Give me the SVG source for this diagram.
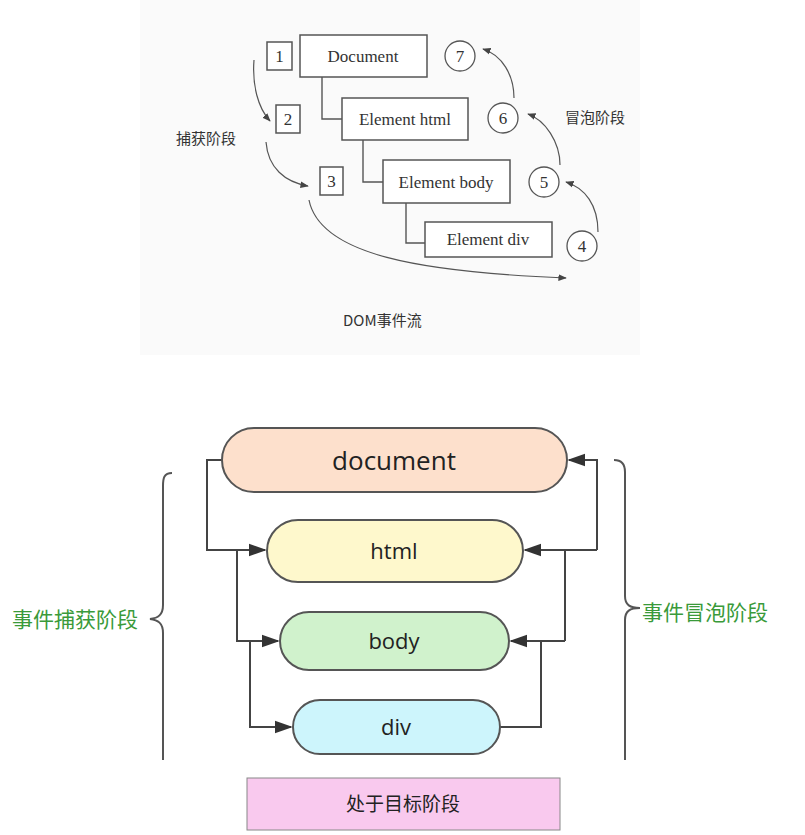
<svg xmlns="http://www.w3.org/2000/svg" width="805" height="835" viewBox="0 0 805 835">
<defs>
<marker id="a" viewBox="0 0 10 10" refX="9" refY="5" markerWidth="7" markerHeight="7" orient="auto"><path d="M0,1 L10,5 L0,9 z" fill="#444"/></marker>
<marker id="b" viewBox="0 0 10 10" refX="9" refY="5" markerWidth="9" markerHeight="9" orient="auto"><path d="M0,1.5 L10,5 L0,8.5 z" fill="#333"/></marker>
<style>
.sb{fill:#fff;stroke:#555;stroke-width:1.5}
.st{font-family:"Liberation Serif",serif;font-size:17px;fill:#333;text-anchor:middle}
.cn{fill:#fff;stroke:#555;stroke-width:1.3}
.cv{fill:none;stroke:#555;stroke-width:1.2;marker-end:url(#a)}
.tl{fill:none;stroke:#555;stroke-width:1.4}
.cj{font-family:"Noto Sans CJK SC",sans-serif;font-size:15px;fill:#333}
.pill{stroke:#555;stroke-width:2}
.pt{font-family:"Open Sans","DejaVu Sans",sans-serif;fill:#222;text-anchor:middle}
.ln{fill:none;stroke:#444;stroke-width:2}
.ar{fill:none;stroke:#444;stroke-width:2;marker-end:url(#b)}
.br{fill:none;stroke:#555;stroke-width:2}
.gl{font-family:"Noto Sans CJK SC",sans-serif;font-size:21px;fill:#3a9a3a}
</style>
</defs>
<rect width="805" height="835" fill="#fff"/>
<rect x="140" y="0" width="500" height="355" fill="#fafafa"/>
<g id="tree">
<path class="tl" d="M322,77 V119 H342 M363,140 V182 H383 M406,203 V243 H425"/>
</g>
<g id="n-document"><rect class="sb" x="300" y="35" width="127" height="42"/><text class="st" x="363" y="62">Document</text></g>
<g id="n-html"><rect class="sb" x="342" y="98" width="126" height="42"/><text class="st" x="405" y="125">Element html</text></g>
<g id="n-body"><rect class="sb" x="383" y="160" width="127" height="43"/><text class="st" x="446" y="188">Element body</text></g>
<g id="n-div"><rect class="sb" x="425" y="222" width="127" height="35"/><text class="st" x="488" y="245">Element div</text></g>
<g id="s1"><rect class="sb" x="267" y="42" width="25" height="28"/><text class="st" x="279.5" y="62">1</text></g>
<g id="s2"><rect class="sb" x="276" y="105" width="24" height="28"/><text class="st" x="288" y="125">2</text></g>
<g id="s3"><rect class="sb" x="320" y="167" width="23" height="28"/><text class="st" x="331.5" y="187">3</text></g>
<g id="c7"><circle class="cn" cx="460" cy="56" r="15"/><text class="st" x="460" y="62">7</text></g>
<g id="c6"><circle class="cn" cx="503" cy="118" r="15"/><text class="st" x="503" y="124">6</text></g>
<g id="c5"><circle class="cn" cx="544" cy="182" r="15"/><text class="st" x="544" y="188">5</text></g>
<g id="c4"><circle class="cn" cx="582" cy="246" r="15"/><text class="st" x="582" y="252">4</text></g>
<g id="curves">
<path class="cv" d="M254,60 C252,85 258,108 270,121"/>
<path class="cv" d="M266,142 C268,168 285,182 308,186"/>
<path class="cv" d="M309,200 C320,255 420,272 566,278"/>
<path class="cv" d="M598,232 C598,205 585,188 566,182"/>
<path class="cv" d="M560,165 C560,142 545,120 528,114"/>
<path class="cv" d="M514,98 C514,75 502,55 483,49"/>
</g>
<text class="cj" x="176" y="144">捕获阶段</text>
<text class="cj" x="565" y="123">冒泡阶段</text>
<text class="cj" x="343" y="326">DOM事件流</text>

<g id="connectors">
<path class="ar" d="M222,460 H207 V550 H265"/>
<path class="ar" d="M237,550 V641 H278"/>
<path class="ar" d="M250,641 V727 H291"/>
<path class="ln" d="M500,727 H541 V641"/>
<path class="ar" d="M565,641 H511"/>
<path class="ln" d="M565,641 V550"/>
<path class="ar" d="M597,550 H525"/>
<path class="ar" d="M597,550 V460 H569"/>
</g>
<g id="p-document"><rect class="pill" x="222" y="428" width="345" height="64" rx="32" fill="#fde0cc"/><text class="pt" x="394" y="470" font-size="26">document</text></g>
<g id="p-html"><rect class="pill" x="267" y="520" width="256" height="62" rx="31" fill="#fef8cc"/><text class="pt" x="394" y="559" font-size="22">html</text></g>
<g id="p-body"><rect class="pill" x="280" y="612" width="229" height="58" rx="29" fill="#d0f2cc"/><text class="pt" x="394" y="649" font-size="22">body</text></g>
<g id="p-div"><rect class="pill" x="293" y="700" width="207" height="54" rx="27" fill="#cdf5fc"/><text class="pt" x="396" y="735" font-size="22">div</text></g>
<g id="target"><rect x="247" y="778" width="313" height="52" fill="#f9c9ee" stroke="#888" stroke-width="1"/><text x="403" y="811" font-family="'Noto Sans CJK SC',sans-serif" font-size="19" fill="#222" text-anchor="middle">处于目标阶段</text></g>
<g id="braces">
<path class="br" d="M172,473 C164,473 163,478 163,486 V605 C163,615 158,618 150,619 C158,620 163,623 163,633 V760"/>
<path class="br" d="M614,460 C622,460 625,465 625,472 V596 C625,605 630,608 640,608 C630,608 625,611 625,620 V760"/>
</g>
<text class="gl" x="12" y="627">事件捕获阶段</text>
<text class="gl" x="642" y="620">事件冒泡阶段</text>
</svg>
